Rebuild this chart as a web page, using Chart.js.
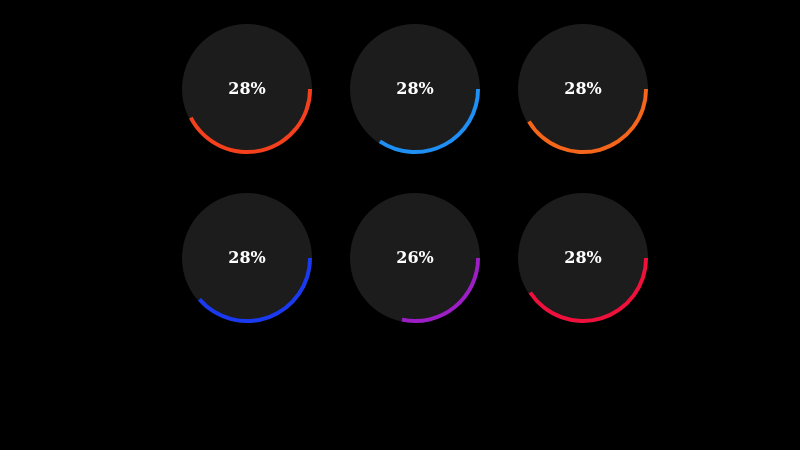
<!DOCTYPE html>
<html><head><meta charset="utf-8">
<script src="https://cdn.jsdelivr.net/npm/chart.js@4"></script>
<style>
html,body{margin:0;padding:0;background:#000;width:800px;height:450px;overflow:hidden;position:relative}
.g{position:absolute;width:140px;height:140px}
</style></head><body>
<script>
const labels = ["28%","28%","28%","28%","26%","28%"];
const arcValues = [0.425,0.344,0.414,0.386,0.283,0.408];
const colors = ["#f4401c","#1e8ff5","#f5651a","#1a3af2","#9d1ec6","#f0103c"];
const centersX = [247,415,583,247,415,583];
const centersY = [89,89,89,258,258,258];

const bgDisk = {
  id:'bgDisk',
  beforeDatasetsDraw(c){
    const m=c.getDatasetMeta(0).data[0]; const ctx=c.ctx;
    ctx.save(); ctx.beginPath(); ctx.arc(m.x,m.y,m.outerRadius,0,Math.PI*2);
    ctx.fillStyle='#1c1c1c'; ctx.fill(); ctx.restore();
  },
  afterDatasetsDraw(c){
    const m=c.getDatasetMeta(0).data[0]; const ctx=c.ctx;
    ctx.save(); ctx.fillStyle='#fff'; ctx.font='bold 16px "DejaVu Serif"';
    ctx.textAlign='center'; ctx.textBaseline='middle';
    ctx.fillText(c.options.plugins.centerText, m.x, m.y+1); ctx.restore();
  }
};

labels.forEach((lab,i)=>{
  const d=document.createElement('div'); d.className='g';
  d.style.left=(centersX[i]-70)+'px'; d.style.top=(centersY[i]-70)+'px';
  const cv=document.createElement('canvas'); d.appendChild(cv); document.body.appendChild(d);
  new Chart(cv,{type:'doughnut',
    data:{datasets:[{data:[arcValues[i],1-arcValues[i]],backgroundColor:[colors[i],'rgba(0,0,0,0)'],borderWidth:0}]},
    options:{responsive:true,maintainAspectRatio:false,animation:false,rotation:90,cutout:'94%',
      layout:{padding:5},
      plugins:{legend:{display:false},tooltip:{enabled:false},centerText:lab}},
    plugins:[bgDisk]});
});
</script>
</body></html>
